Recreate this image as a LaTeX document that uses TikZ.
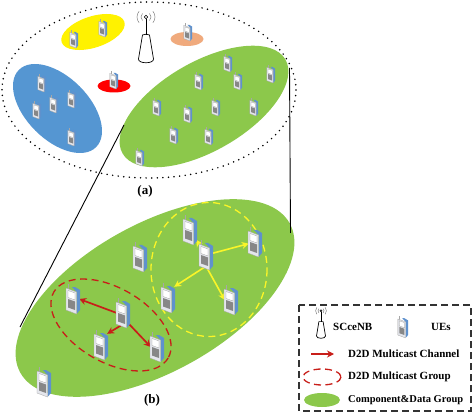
\documentclass[tikz,border=0pt]{standalone}
\usepackage{fontspec}
\setmainfont{Liberation Serif}
\usetikzlibrary{arrows.meta}
\definecolor{grp}{RGB}{140,200,75}
\definecolor{blu}{RGB}{85,150,210}
\definecolor{org}{RGB}{240,170,125}
\definecolor{pblue}{RGB}{95,145,205}
\definecolor{pface}{RGB}{228,230,236}
\definecolor{pkey}{RGB}{135,135,135}
\definecolor{rd}{RGB}{200,30,25}
\definecolor{yl}{RGB}{250,245,40}
\tikzset{
  phonebox/.style={inner sep=0pt,minimum width=12pt,minimum height=22pt},
  redarrow/.style={draw=rd,line width=1.7pt,-{Stealth[length=7pt,width=7pt]}},
  yelarrow/.style={draw=yl,line width=1.6pt,-{Stealth[length=7pt,width=7pt]}},
  caption/.style={font=\bfseries\fontsize{13}{14}\selectfont,inner sep=0pt},
  leglab/.style={font=\bfseries\fontsize{11}{12}\selectfont,inner sep=0pt,anchor=west},
  zoomline/.style={draw=black,line width=.9pt},
  reddash/.style={draw=rd,line width=1.3pt,dash pattern=on 7pt off 4.5pt},
  yeldash/.style={draw=yl,line width=1.3pt,dash pattern=on 7pt off 4.5pt}
}
\newcommand\phone[3]{%
\begin{scope}[shift={(#1,#2)},scale=#3]
  \fill[gray!70] (-5.5,-15) rectangle (-4.3,-10);
  \fill[pblue] (3.5,-7) -- (-1,-12) -- (2,-12) -- (7,-9) -- (7,11) -- (3.5,15) -- cycle;
  \fill[pface,draw=gray!70,line width=.3pt] (-7,-11) -- (3.5,-7) -- (3.5,15) -- (-7,11) -- cycle;
  \fill[white,draw=gray!80,line width=.25pt] (-5,-8.5) -- (2,-6) -- (2,1) -- (-5,-1.5) -- cycle;
  \fill[pkey] (-5,0) -- (2,2.5) -- (2,11) -- (-5,8.5) -- cycle;
\end{scope}}
\newcommand\tower[3]{%
\begin{scope}[shift={(#1,#2)},scale=#3]
  \draw[line width=.7pt,fill=white] (-3.5,-14) .. controls (-1,-15) and (1,-15) .. (3.5,-14) -- (7.5,10) .. controls (8,15) and (-8,15) .. (-7.5,10) -- cycle;
  \draw[line width=.7pt] (0,-14) -- (0,-30);
  \draw[line width=.6pt,fill=white] (0,-32) circle (1.7);
  \foreach \r/\a in {5/45,9/40}{
    \draw[gray,line width=.5pt] (0,-32) ++(180-\a:\r) arc[start angle=180-\a,end angle=180+\a,radius=\r];
    \draw[gray,line width=.5pt] (0,-32) ++(\a:\r) arc[start angle=\a,end angle=-\a,radius=\r];
  }
\end{scope}}
\begin{document}
\begin{tikzpicture}[x=1pt,y=-1pt]
\useasboundingbox (0,0) rectangle (474,414);
\fill[white] (0,0) rectangle (474,414);
% (a)
\draw[line width=1.7pt,dash pattern=on 0pt off 5.6pt,line cap=round] (149,90) circle[x radius=147,y radius=88];
\fill[yellow] (93,32) circle[x radius=33,y radius=15.6,rotate=18];
\fill[blu] (57.5,108.5) circle[x radius=54.6,y radius=31.3,rotate=-45];
\fill[red] (114,86) circle[x radius=16.5,y radius=6.5];
\fill[org] (187,39) circle[x radius=16.5,y radius=7];
\fill[grp] (204,106.5) circle[x radius=94,y radius=44.5,rotate=30];
\tower{146}{49}{1}
\foreach \x/\y in {74/39,103/28,42/83,72/99,37/110,54/104,72/137,188/32,114/80,
  228/63,199/81,238/81,271/74,157/107,188/114,216/107,254/107,174/135,209/136,140/157}
  {\phone{\x}{\y}{.6}}
\node[caption] (capa) at (145,191) {(a)};
% (b)
\fill[grp] (155,298) circle[x radius=154,y radius=74,rotate=29];
\coordinate (z1) at (124,125);
\coordinate (z2) at (20,327);
\coordinate (z3) at (289.5,68);
\coordinate (z4) at (290.5,233);
\draw[zoomline] (z1) -- (z2);
\draw[zoomline] (z3) -- (z4);
\draw[yeldash] (209,269.5) circle[x radius=58,y radius=67];
\draw[reddash] (111,325) circle[x radius=66,y radius=37,rotate=-30];
\foreach \x/\y/\n in {190/230/p1,255/242/p2,206/255/p0,140/257/p3,168/298/p4,231/300/p5,73/299/p6,123/313/p7,101/345/p8,157/347/p9,44/382/p10}
  {\node[phonebox] (\n) at (\x,\y) {};}
\draw[yelarrow] (p0) -- (p1);
\draw[yelarrow] (p0) -- (p2);
\draw[yelarrow] (p0.south) -- (p4.north east);
\draw[yelarrow] (p0.south) -- (p5.west);
\draw[redarrow] (p7.west) -- (p6.east);
\draw[redarrow] (p7.south) -- (p8.north east);
\draw[redarrow] (p7.south east) -- (p9.west);
\foreach \x/\y in {190/230,255/242,206/255,140/257,168/298,231/300,73/299,123/313,101/345,157/347,44/382}
  {\phone{\x}{\y}{1}}
\node[caption] (capb) at (152,400) {(b)};
% legend
\draw[line width=1.2pt,dash pattern=on 7pt off 4pt,draw=black!80] (299,305) rectangle (471,411);
\tower{321}{330}{.6}
\phone{403}{327}{.73}
\node[leglab] (l1) at (333,327) {SCceNB};
\node[leglab] (l2) at (431,327) {UEs};
\coordinate (la) at (311,354);
\coordinate (lb) at (334,354);
\draw[redarrow,line width=1.3pt] (la) -- (lb);
\node[leglab] (l3) at (348,354) {D2D Multicast Channel};
\draw[reddash] (322,377) circle[x radius=19,y radius=8];
\node[leglab] (l4) at (348,377) {D2D Multicast Group};
\fill[grp] (322,400) circle[x radius=18,y radius=7];
\node[leglab,font=\bfseries\fontsize{10.5}{12}\selectfont] (l5) at (348,400) {Component\&Data Group};
\end{tikzpicture}
\end{document}
